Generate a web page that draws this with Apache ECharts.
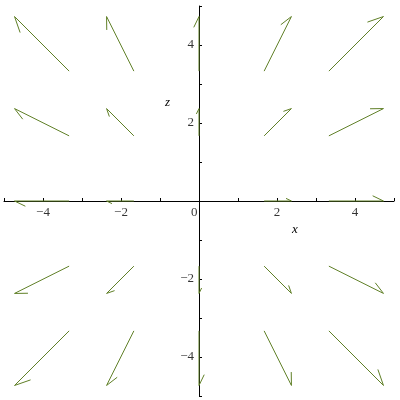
<!DOCTYPE html>
<html>
<head>
    <meta charset="utf-8">
    <script src="https://cdn.jsdelivr.net/npm/echarts@6/dist/echarts.min.js"></script>
</head>
<body style="margin:0">
    <div id="field" style="width:400px;height:400px;"></div>
    <script>
        // arrow tails (x, z) and vector components (u, w)
        var tailX = [-3.33, -1.67, 0, 1.67, 3.33];
        var tailZ = [3.33, 1.67, 0, -1.67, -3.33];
        var uByCol = [-1.4, -0.7, 0, 0.7, 1.4];
        var wByRow = [1.4, 0.7, 0, -0.7, -1.4];
        var tickVals = [-4, -2, 2, 4];

        var arrows = [];
        tailZ.forEach(function (z, r) {
            tailX.forEach(function (x, c) {
                arrows.push([x, z, uByCol[c], wByRow[r]]);
            });
        });

        var font = 'Liberation Serif';
        function fmt(v) { return String(v).replace('-', '\u2212'); }
        var axisCommon = {
            type: 'value', min: -5, max: 5, interval: 1,
            axisLine: { onZero: true, lineStyle: { color: '#000' } },
            axisTick: { length: 3, inside: true, lineStyle: { color: '#000' } },
            axisLabel: { show: false },
            splitLine: { show: false }
        };

        var chart = echarts.init(document.getElementById('field'));
        chart.setOption({
            animation: false,
            grid: { left: 4, right: 6, top: 6, bottom: 4, containLabel: false, outerBoundsMode: 'none' },
            xAxis: axisCommon,
            yAxis: axisCommon,
            graphic: [
                { type: 'text', left: 292, top: 223, style: { text: 'x', font: 'italic 13px ' + font, fill: '#000' } },
                { type: 'text', left: 165, top: 96, style: { text: 'z', font: 'italic 13px ' + font, fill: '#000' } }
            ],
            series: [{
                type: 'scatter', symbolSize: 0, silent: true,
                data: tickVals.map(function (v) { return [v, 0]; }).concat([[0, 0]]),
                label: {
                    show: true, position: 'bottom', distance: 5, offset: [0, 0],
                    color: '#000', fontFamily: font, fontSize: 13,
                    formatter: function (p) { return p.value[0] === 0 ? '0   ' : fmt(p.value[0]); }
                }
            }, {
                type: 'scatter', symbolSize: 0, silent: true,
                data: tickVals.map(function (v) { return [0, v]; }),
                label: {
                    show: true, position: 'left', distance: 5,
                    color: '#000', fontFamily: font, fontSize: 13,
                    formatter: function (p) { return fmt(p.value[1]); }
                }
            }, {
                type: 'custom',
                data: arrows,
                clip: false,
                renderItem: function (params, api) {
                    var p0 = api.coord([api.value(0), api.value(1)]);
                    var p1 = api.coord([api.value(0) + api.value(2), api.value(1) + api.value(3)]);
                    var dx = p0[0] - p1[0], dy = p0[1] - p1[1];
                    var len = Math.sqrt(dx * dx + dy * dy);
                    if (len < 1) return null;
                    var ang = Math.atan2(dy, dx) + 0.45;
                    var bl = len * 0.22;
                    var barb = [p1[0] + bl * Math.cos(ang), p1[1] + bl * Math.sin(ang)];
                    return {
                        type: 'polyline',
                        shape: { points: [p0, p1, barb] },
                        style: { stroke: '#5f7f26', lineWidth: 1, fill: null }
                    };
                }
            }]
        });
    </script>
</body>
</html>
